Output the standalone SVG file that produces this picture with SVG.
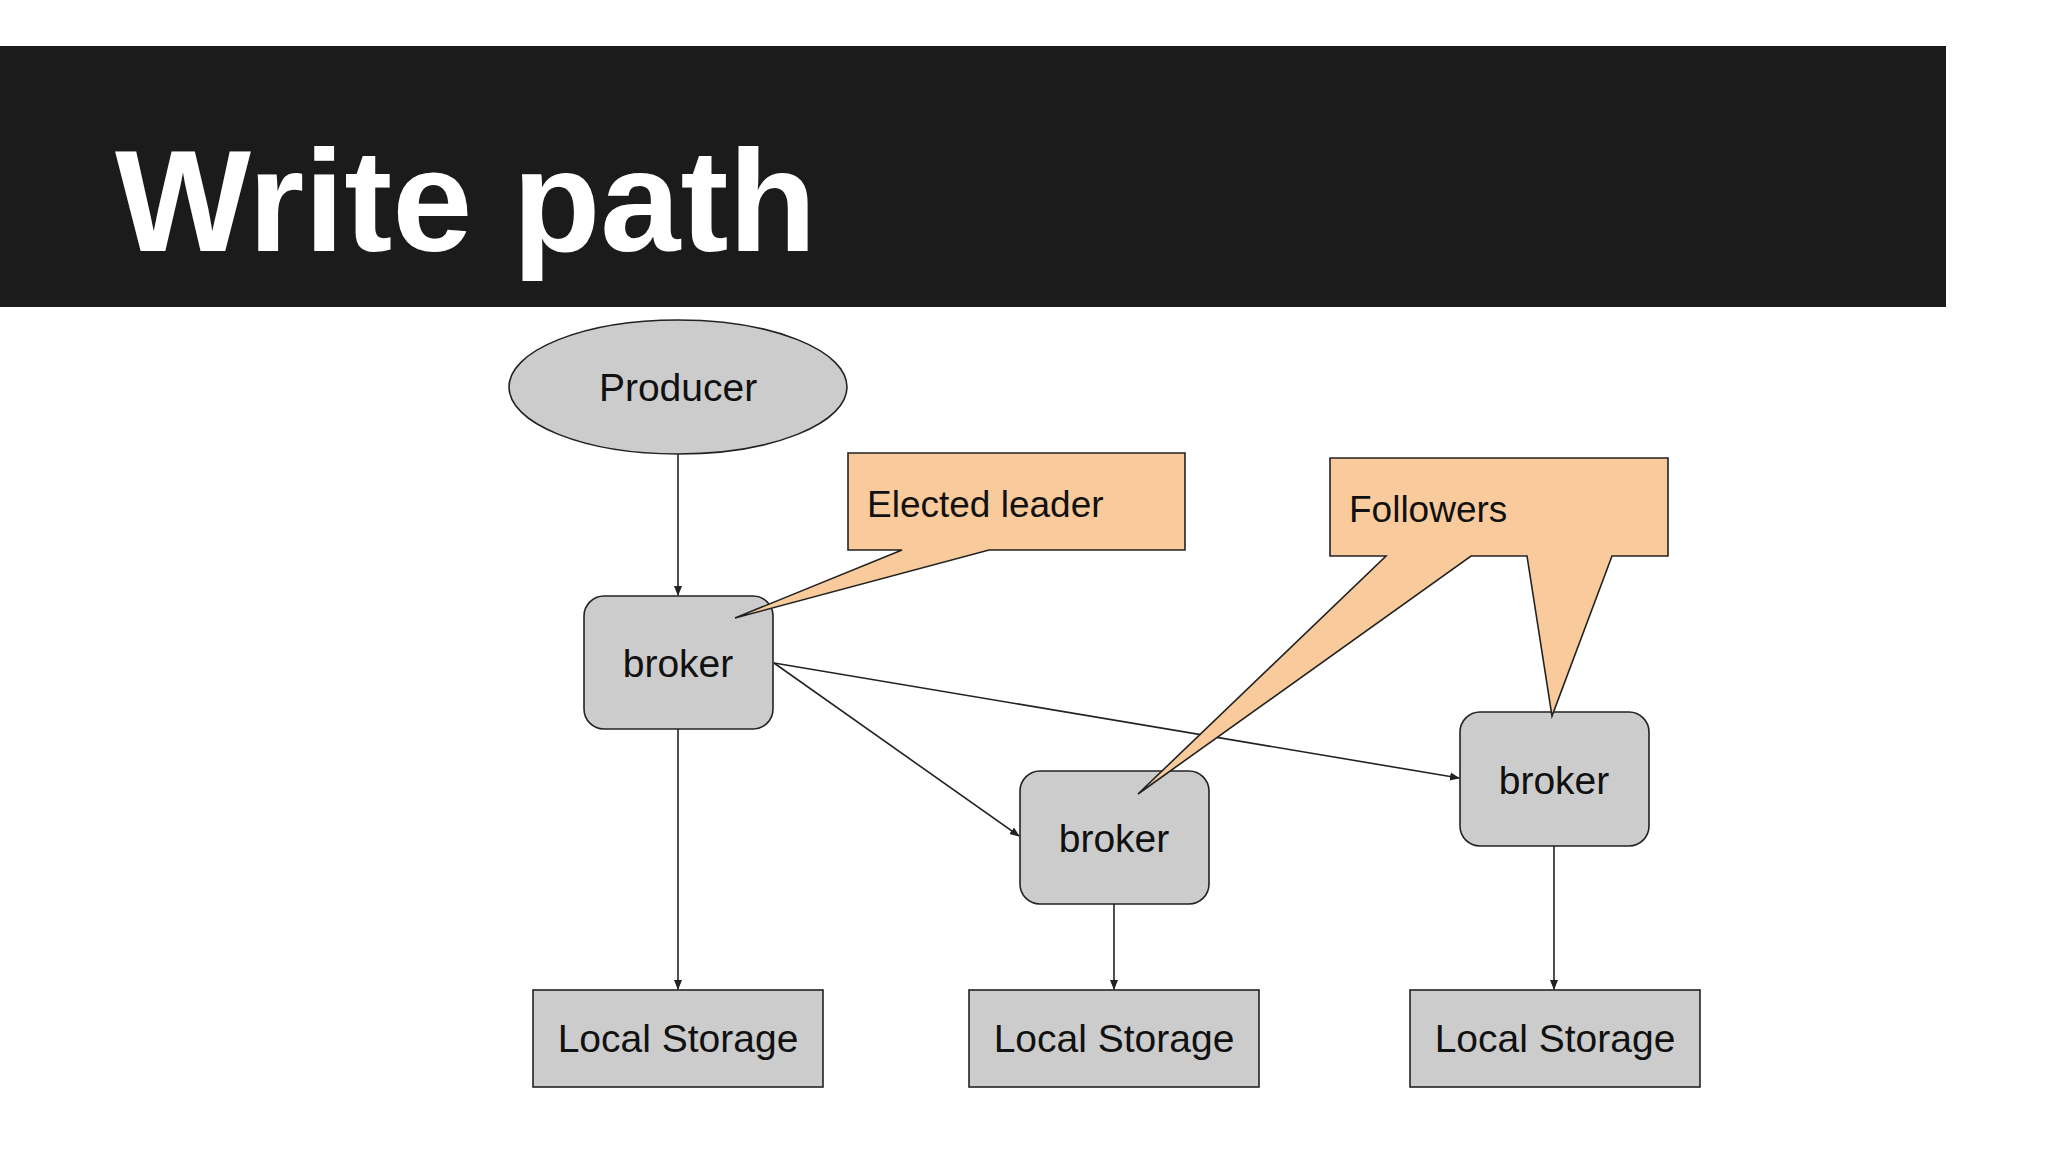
<svg xmlns="http://www.w3.org/2000/svg" width="2048" height="1152" viewBox="0 0 2048 1152">
<style>
.n{fill:#cccccc;stroke:#222;stroke-width:1.6}
.c{fill:#f9cb9c;stroke:#222;stroke-width:1.6;stroke-linejoin:miter}
.t{font-family:"Liberation Sans",Arial,sans-serif;font-size:39px;fill:#111;text-anchor:middle}
.ct{font-family:"Liberation Sans",Arial,sans-serif;font-size:37px;fill:#111}
.e{stroke:#222;stroke-width:1.6;fill:none;marker-end:url(#a)}
</style>
<defs><marker id="a" markerWidth="10" markerHeight="10" refX="9" refY="5" orient="auto" markerUnits="userSpaceOnUse"><path d="M0,1 L10,5 L0,9 Z" fill="#222"/></marker></defs>
<rect width="2048" height="1152" fill="#fff"/>
<rect x="0" y="46" width="1946" height="261" fill="#1b1b1b"/>
<text x="115" y="251" font-family="Liberation Sans,Arial,sans-serif" font-weight="bold" font-size="144" fill="#fff">Write path</text>
<g id="connectors">
<line class="e" x1="678" y1="454" x2="678" y2="595"/>
<line class="e" x1="678" y1="729" x2="678" y2="989"/>
<line class="e" x1="774" y1="663" x2="1019" y2="836"/>
<line class="e" x1="774" y1="663" x2="1459" y2="778"/>
<line class="e" x1="1114" y1="904" x2="1114" y2="989"/>
<line class="e" x1="1554" y1="846" x2="1554" y2="989"/>
</g>
<g id="producer"><ellipse class="n" cx="678" cy="387" rx="169" ry="67"/><text class="t" x="678" y="401">Producer</text></g>
<g id="broker1"><rect class="n" x="584" y="596" width="189" height="133" rx="20"/><text class="t" x="678" y="677">broker</text></g>
<g id="broker2"><rect class="n" x="1020" y="771" width="189" height="133" rx="20"/><text class="t" x="1114" y="852">broker</text></g>
<g id="broker3"><rect class="n" x="1460" y="712" width="189" height="134" rx="20"/><text class="t" x="1554" y="794">broker</text></g>
<g id="storage1"><rect class="n" x="533" y="990" width="290" height="97"/><text class="t" x="678" y="1052">Local Storage</text></g>
<g id="storage2"><rect class="n" x="969" y="990" width="290" height="97"/><text class="t" x="1114" y="1052">Local Storage</text></g>
<g id="storage3"><rect class="n" x="1410" y="990" width="290" height="97"/><text class="t" x="1555" y="1052">Local Storage</text></g>
<g id="leader-callout"><path class="c" d="M848,453 H1185 V550 H989 L735,618 L902,550 H848 Z"/><text class="ct" x="867" y="517">Elected leader</text></g>
<g id="followers-callout"><path class="c" d="M1330,458 H1668 V556 H1612 L1552,716 L1527,556 H1471 L1138,794 L1386,556 H1330 Z"/><text class="ct" x="1349" y="522">Followers</text></g>
</svg>
